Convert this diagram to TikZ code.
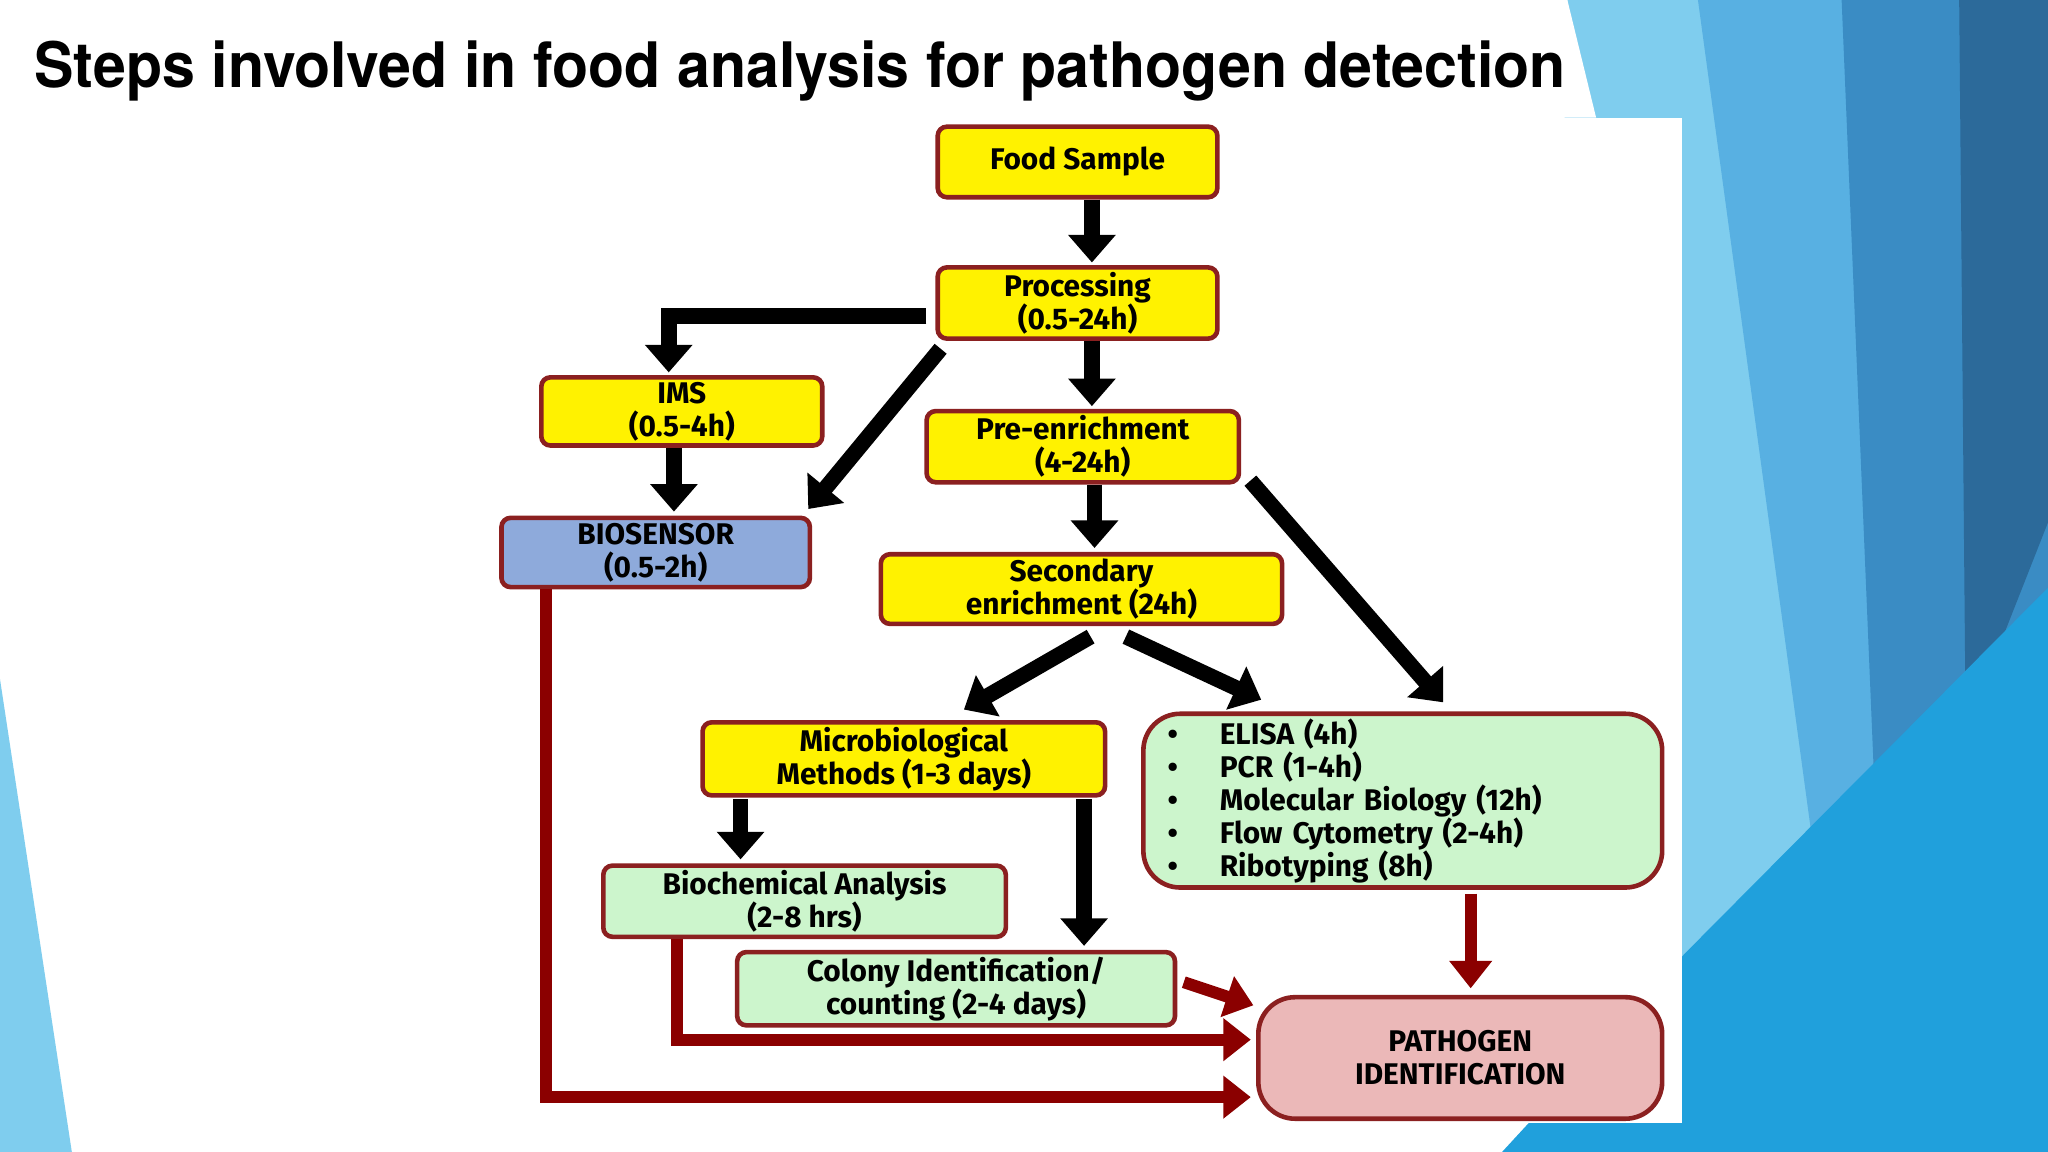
\documentclass[tikz,border=0pt]{standalone}
\usepackage{fontspec}
\setmainfont{Fira Sans}
\newfontfamily\titlefont{TeX Gyre Heros}
\usetikzlibrary{arrows.meta,calc}
\definecolor{bred}{HTML}{8B2020}
\definecolor{byel}{HTML}{FFF200}
\definecolor{bgrn}{HTML}{CCF5CC}
\definecolor{bblu}{HTML}{8EAADB}
\definecolor{bpnk}{HTML}{EBB8B8}
\definecolor{darrow}{HTML}{8B0000}
\definecolor{dA}{RGB}{127,205,238}
\definecolor{dB}{RGB}{88,176,226}
\definecolor{dC}{RGB}{58,140,196}
\definecolor{dD}{RGB}{44,106,154}
\definecolor{dE}{RGB}{32,160,220}
\tikzset{
 box/.style={draw=bred,line width=1pt,rounded corners=2pt,align=center,font=\fontsize{6.5}{7.2}\selectfont\bfseries,inner sep=1pt},
 ybox/.style={box,fill=byel},
 gbox/.style={box,fill=bgrn},
 barrow/.style={line width=3.4pt,-{Triangle[width=10pt,length=6pt]},black},
 rarrow/.style={line width=2.6pt,-{Triangle[width=9pt,length=6pt]},darrow},
}
\begin{document}
\begin{tikzpicture}[x=0.01cm,y=-0.01cm]
\useasboundingbox (0,0) rectangle (1568,882);
\fill[white] (0,0) rectangle (1568,882);
% right decoration
\fill[dA] (1200,0) -- (1568,0) -- (1568,882) -- (1180,882) -- cycle;
\fill[dB] (1300,0) -- (1568,0) -- (1568,882) -- (1420,882) -- cycle;
\fill[dC] (1410,0) -- (1568,0) -- (1568,560) -- (1440,720) -- cycle;
\fill[dD] (1500,0) -- (1568,0) -- (1568,400) -- (1505,560) -- cycle;
\fill[dE] (1290,730) -- (1568,450) -- (1568,882) -- (1150,882) -- cycle;
\fill[white] (0,90) rectangle (1288,860);
\fill[white] (0,0) -- (1200,0) -- (1222,90) -- (0,90) -- cycle;
\fill[dA] (0,520) -- (55,882) -- (0,882) -- cycle;
% title
\node[anchor=west,font=\titlefont\fontsize{13}{15}\selectfont\bfseries] (title) at (14,54) {\scalebox{0.99}[1.05]{Steps involved in food analysis for pathogen detection}};
% boxes
\node[ybox,minimum width=2.14cm,minimum height=0.54cm] (fs) at (825,124) {Food Sample};
\node[ybox,minimum width=2.14cm,minimum height=0.53cm] (proc) at (825,232) {Processing\\(0.5-24h)};
\node[ybox,minimum width=2.15cm,minimum height=0.52cm] (ims) at (522,315) {IMS\\(0.5-4h)};
\node[ybox,minimum width=2.39cm,minimum height=0.52cm] (pre) at (829,342) {Pre-enrichment\\(4-24h)};
\node[box,fill=bblu,minimum width=2.36cm,minimum height=0.53cm] (bio) at (502,423) {BIOSENSOR\\(0.5-2h)};
\node[ybox,minimum width=3.07cm,minimum height=0.52cm] (sec) at (828,451) {Secondary\\enrichment (24h)};
\node[ybox,minimum width=3.08cm,minimum height=0.52cm] (mic) at (692,581) {Microbiological\\Methods (1-3 days)};
\node[gbox,rounded corners=8pt,minimum width=3.97cm,minimum height=1.28cm,align=left,text width=3.6cm] (eli) at (1074,613) {%
\makebox[0.4cm][l]{\textbullet}ELISA (4h)\\\makebox[0.4cm][l]{\textbullet}PCR (1-4h)\\\makebox[0.4cm][l]{\textbullet}Molecular Biology (12h)\\\makebox[0.4cm][l]{\textbullet}Flow Cytometry (2-4h)\\\makebox[0.4cm][l]{\textbullet}Ribotyping (8h)};
\node[gbox,minimum width=3.08cm,minimum height=0.54cm] (bch) at (616,690) {Biochemical Analysis\\(2-8 hrs)};
\node[gbox,minimum width=3.35cm,minimum height=0.53cm] (col) at (732,757) {Colony Identification/\\counting (2-4 days)};
\node[box,fill=bpnk,rounded corners=8pt,minimum width=3.09cm,minimum height=0.93cm] (pat) at (1118,810) {PATHOGEN\\IDENTIFICATION};
% black arrows
\draw[barrow] ($(fs.south)+(11,0)$) -- ($(proc.north)+(11,-2)$);
\draw[barrow] ($(proc.south)+(11,0)$) -- ($(pre.north)+(7,-2)$);
\draw[barrow] ($(proc.west)+(-7,10)$) -| ($(ims.north)+(-10,-2)$);
\draw[barrow] ($(proc.south west)+(4,6)$) -- ($(bio.north east)+(-3,-5)$);
\draw[barrow] ($(ims.south)+(-6,0)$) -- ($(bio.north)+(14,-3)$);
\draw[barrow] ($(pre.south)+(9,0)$) -- ($(sec.north)+(10,-3)$);
\draw[barrow] ($(pre.south east)+(7,-3)$) -- ($(eli.north)+(31,-7)$);
\draw[barrow] ($(sec.south)+(7,8)$) -- ($(mic.north)+(46,-8)$);
\draw[barrow] ($(sec.south)+(34,8)$) -- ($(eli.north west)+(92,-9)$);
\draw[barrow] ($(mic.south)+(-125,1)$) -- ($(bch.north)+(-49,-3)$);
\draw[barrow] ($(mic.south)+(138,1)$) -- ($(col.north)+(98,-3)$);
% red arrows
\draw[rarrow] ($(eli.south)+(52,3)$) -- ($(pat.north)+(8,-5)$);
\draw[rarrow] ($(col.east)+(5,-5)$) -- ($(pat.north west)+(-2,8)$);
\draw[rarrow] ($(bch.south west)+(58,0)$) |- ($(pat.west)+(-4,-14)$);
\draw[rarrow] ($(bio.south west)+(36,0)$) |- ($(pat.west)+(-4,30)$);
\end{tikzpicture}
\end{document}
